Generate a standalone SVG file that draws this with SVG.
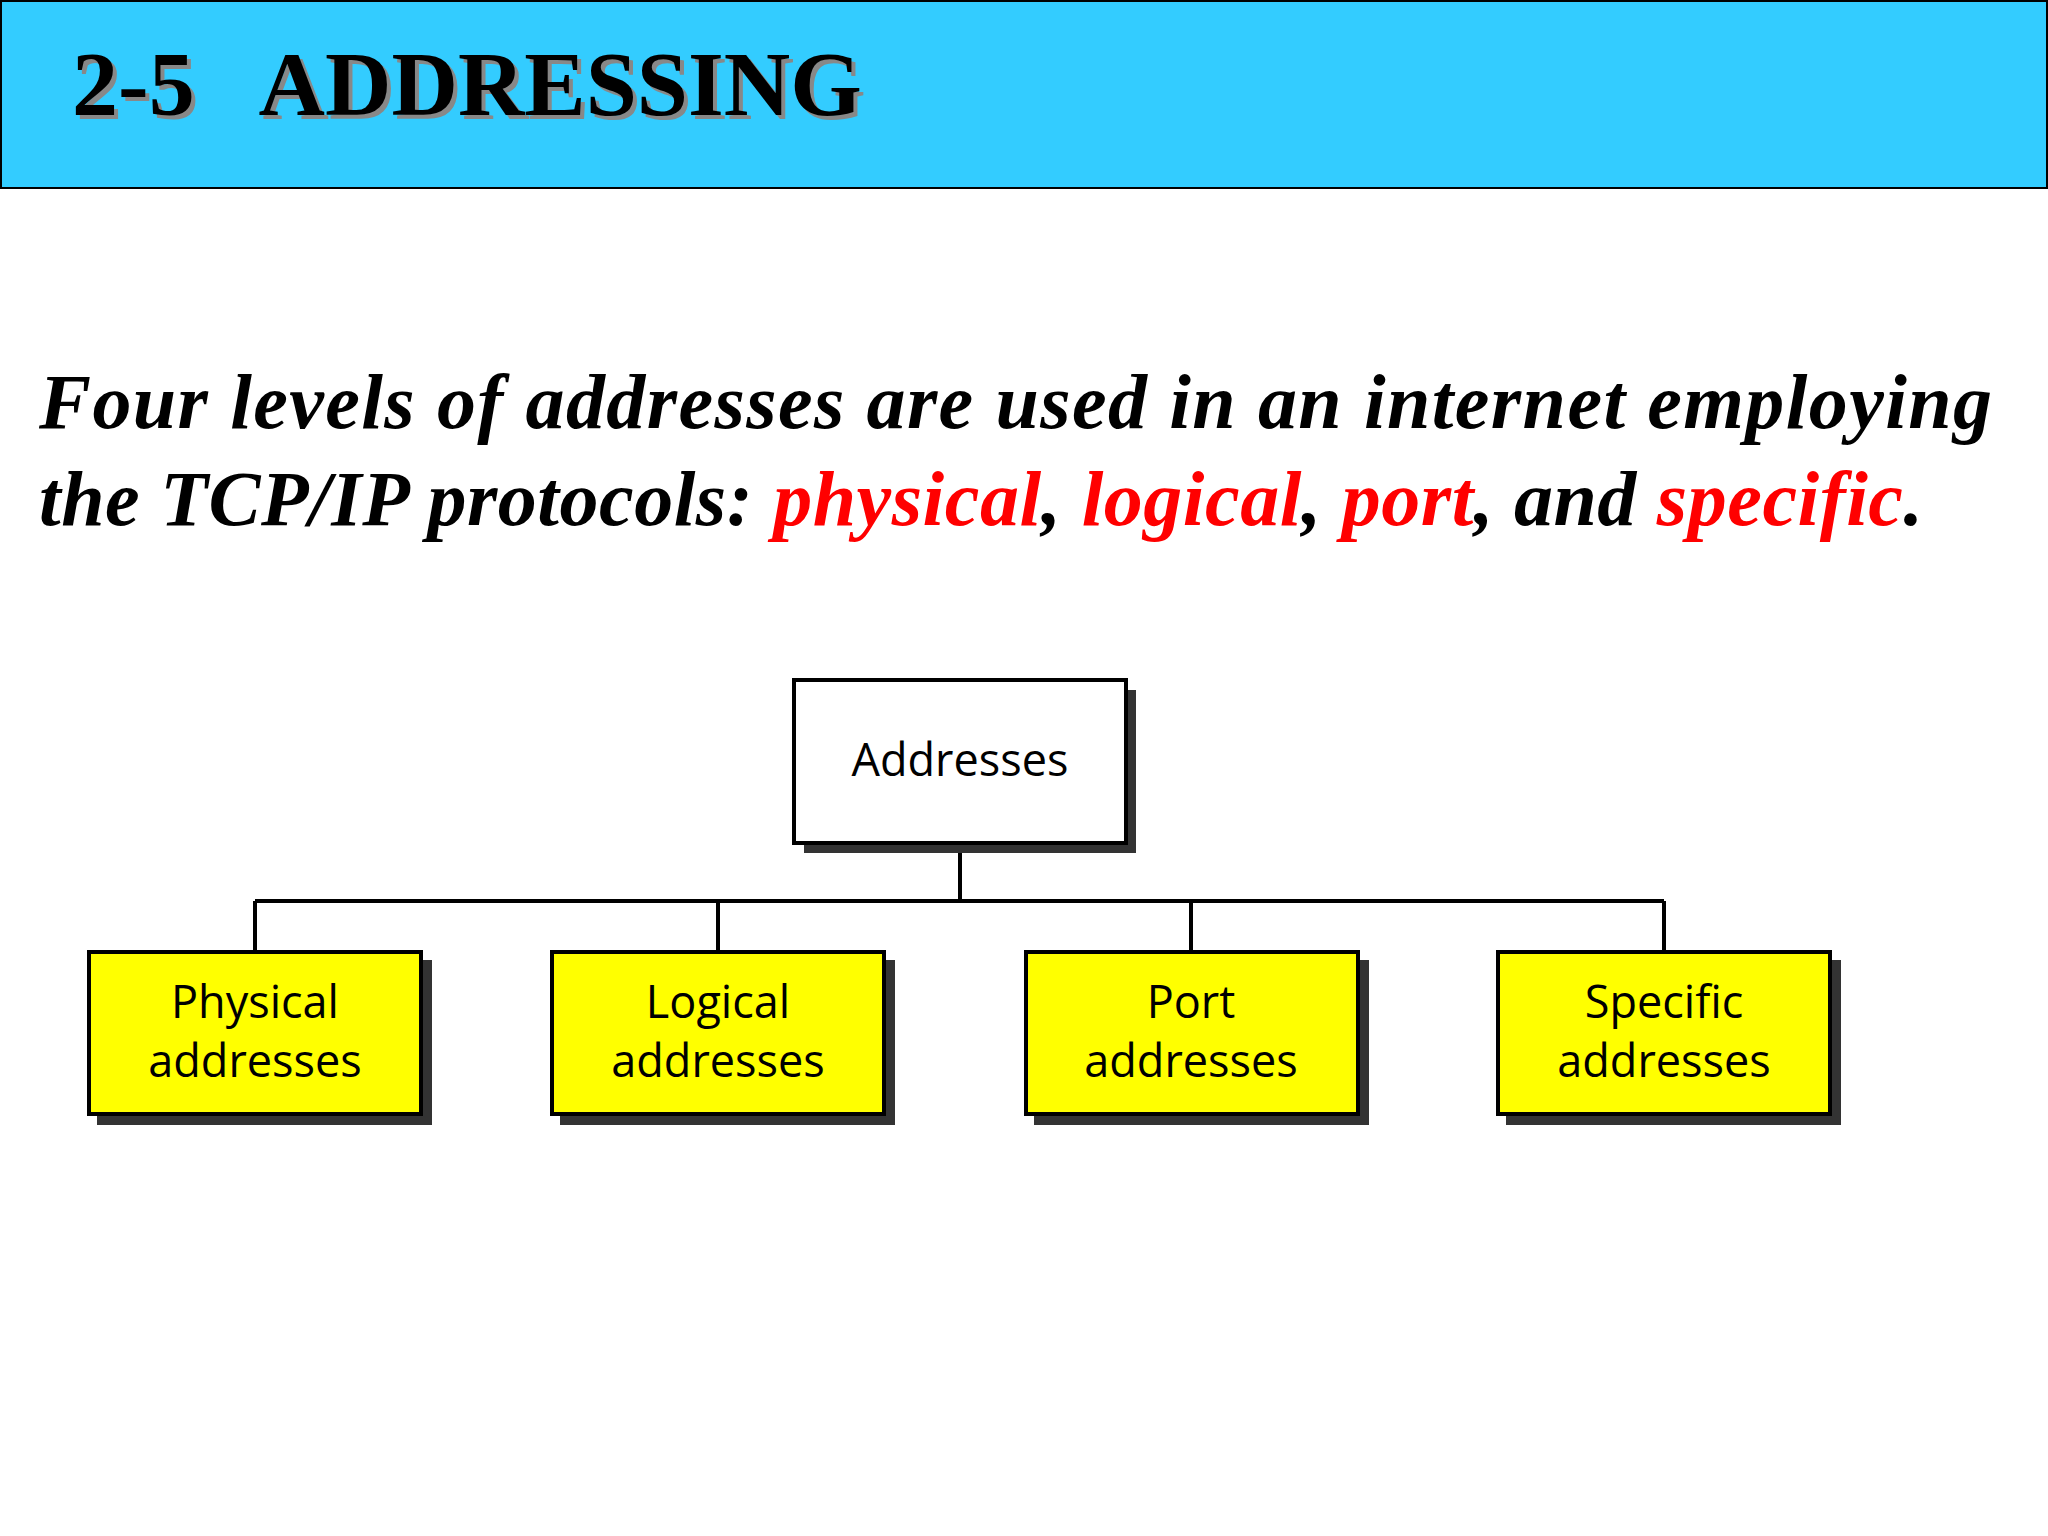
<svg xmlns="http://www.w3.org/2000/svg" width="2048" height="1536" viewBox="0 0 2048 1536">
<style>
.sh{fill:#333}
.box{stroke:#000;stroke-width:4}
.lbl{font-family:"Open Sans","Noto Sans",sans-serif;font-size:45px;text-anchor:middle;fill:#000}
.p{font-family:"Liberation Serif",serif;font-size:78px;font-style:italic;font-weight:bold}
.r{fill:#f00}
</style>
<rect x="0" y="0" width="2048" height="1536" fill="#fff"/>
<rect x="1" y="1" width="2046" height="187" fill="#33ccff" stroke="#000" stroke-width="2"/>
<text x="76" y="119" font-family="Liberation Serif,serif" font-weight="bold" font-size="92" fill="#888" xml:space="preserve">2-5   ADDRESSING</text>
<text x="72" y="115" font-family="Liberation Serif,serif" font-weight="bold" font-size="92" fill="#000" xml:space="preserve">2-5   ADDRESSING</text>
<text class="p" x="39" y="428" textLength="1953" lengthAdjust="spacing">Four levels of addresses are used in an internet employing</text>
<text class="p" x="39" y="525" textLength="1884" lengthAdjust="spacing">the TCP/IP protocols: <tspan class="r">physical</tspan>, <tspan class="r">logical</tspan>, <tspan class="r">port</tspan>, and <tspan class="r">specific</tspan>.</text>
<g id="connectors" stroke="#000" stroke-width="4" fill="none">
<path d="M960 843V901M255 901H1664M255 901V952M718 901V952M1191 901V952M1664 901V952"/>
</g>
<g id="addresses"><rect class="sh" x="804" y="690" width="332" height="163"/><rect class="box" x="794" y="680" width="332" height="163" fill="#fff"/><text class="lbl" x="960" y="776">Addresses</text></g>
<g id="physical"><rect class="sh" x="97" y="960" width="335" height="165"/><rect class="box" x="89" y="952" width="332" height="162" fill="#ff0"/><text class="lbl" x="255" y="1018">Physical</text><text class="lbl" x="255" y="1077">addresses</text></g>
<g id="logical"><rect class="sh" x="560" y="960" width="335" height="165"/><rect class="box" x="552" y="952" width="332" height="162" fill="#ff0"/><text class="lbl" x="718" y="1018">Logical</text><text class="lbl" x="718" y="1077">addresses</text></g>
<g id="port"><rect class="sh" x="1034" y="960" width="335" height="165"/><rect class="box" x="1026" y="952" width="332" height="162" fill="#ff0"/><text class="lbl" x="1191" y="1018">Port</text><text class="lbl" x="1191" y="1077">addresses</text></g>
<g id="specific"><rect class="sh" x="1506" y="960" width="335" height="165"/><rect class="box" x="1498" y="952" width="332" height="162" fill="#ff0"/><text class="lbl" x="1664" y="1018">Specific</text><text class="lbl" x="1664" y="1077">addresses</text></g>
</svg>
